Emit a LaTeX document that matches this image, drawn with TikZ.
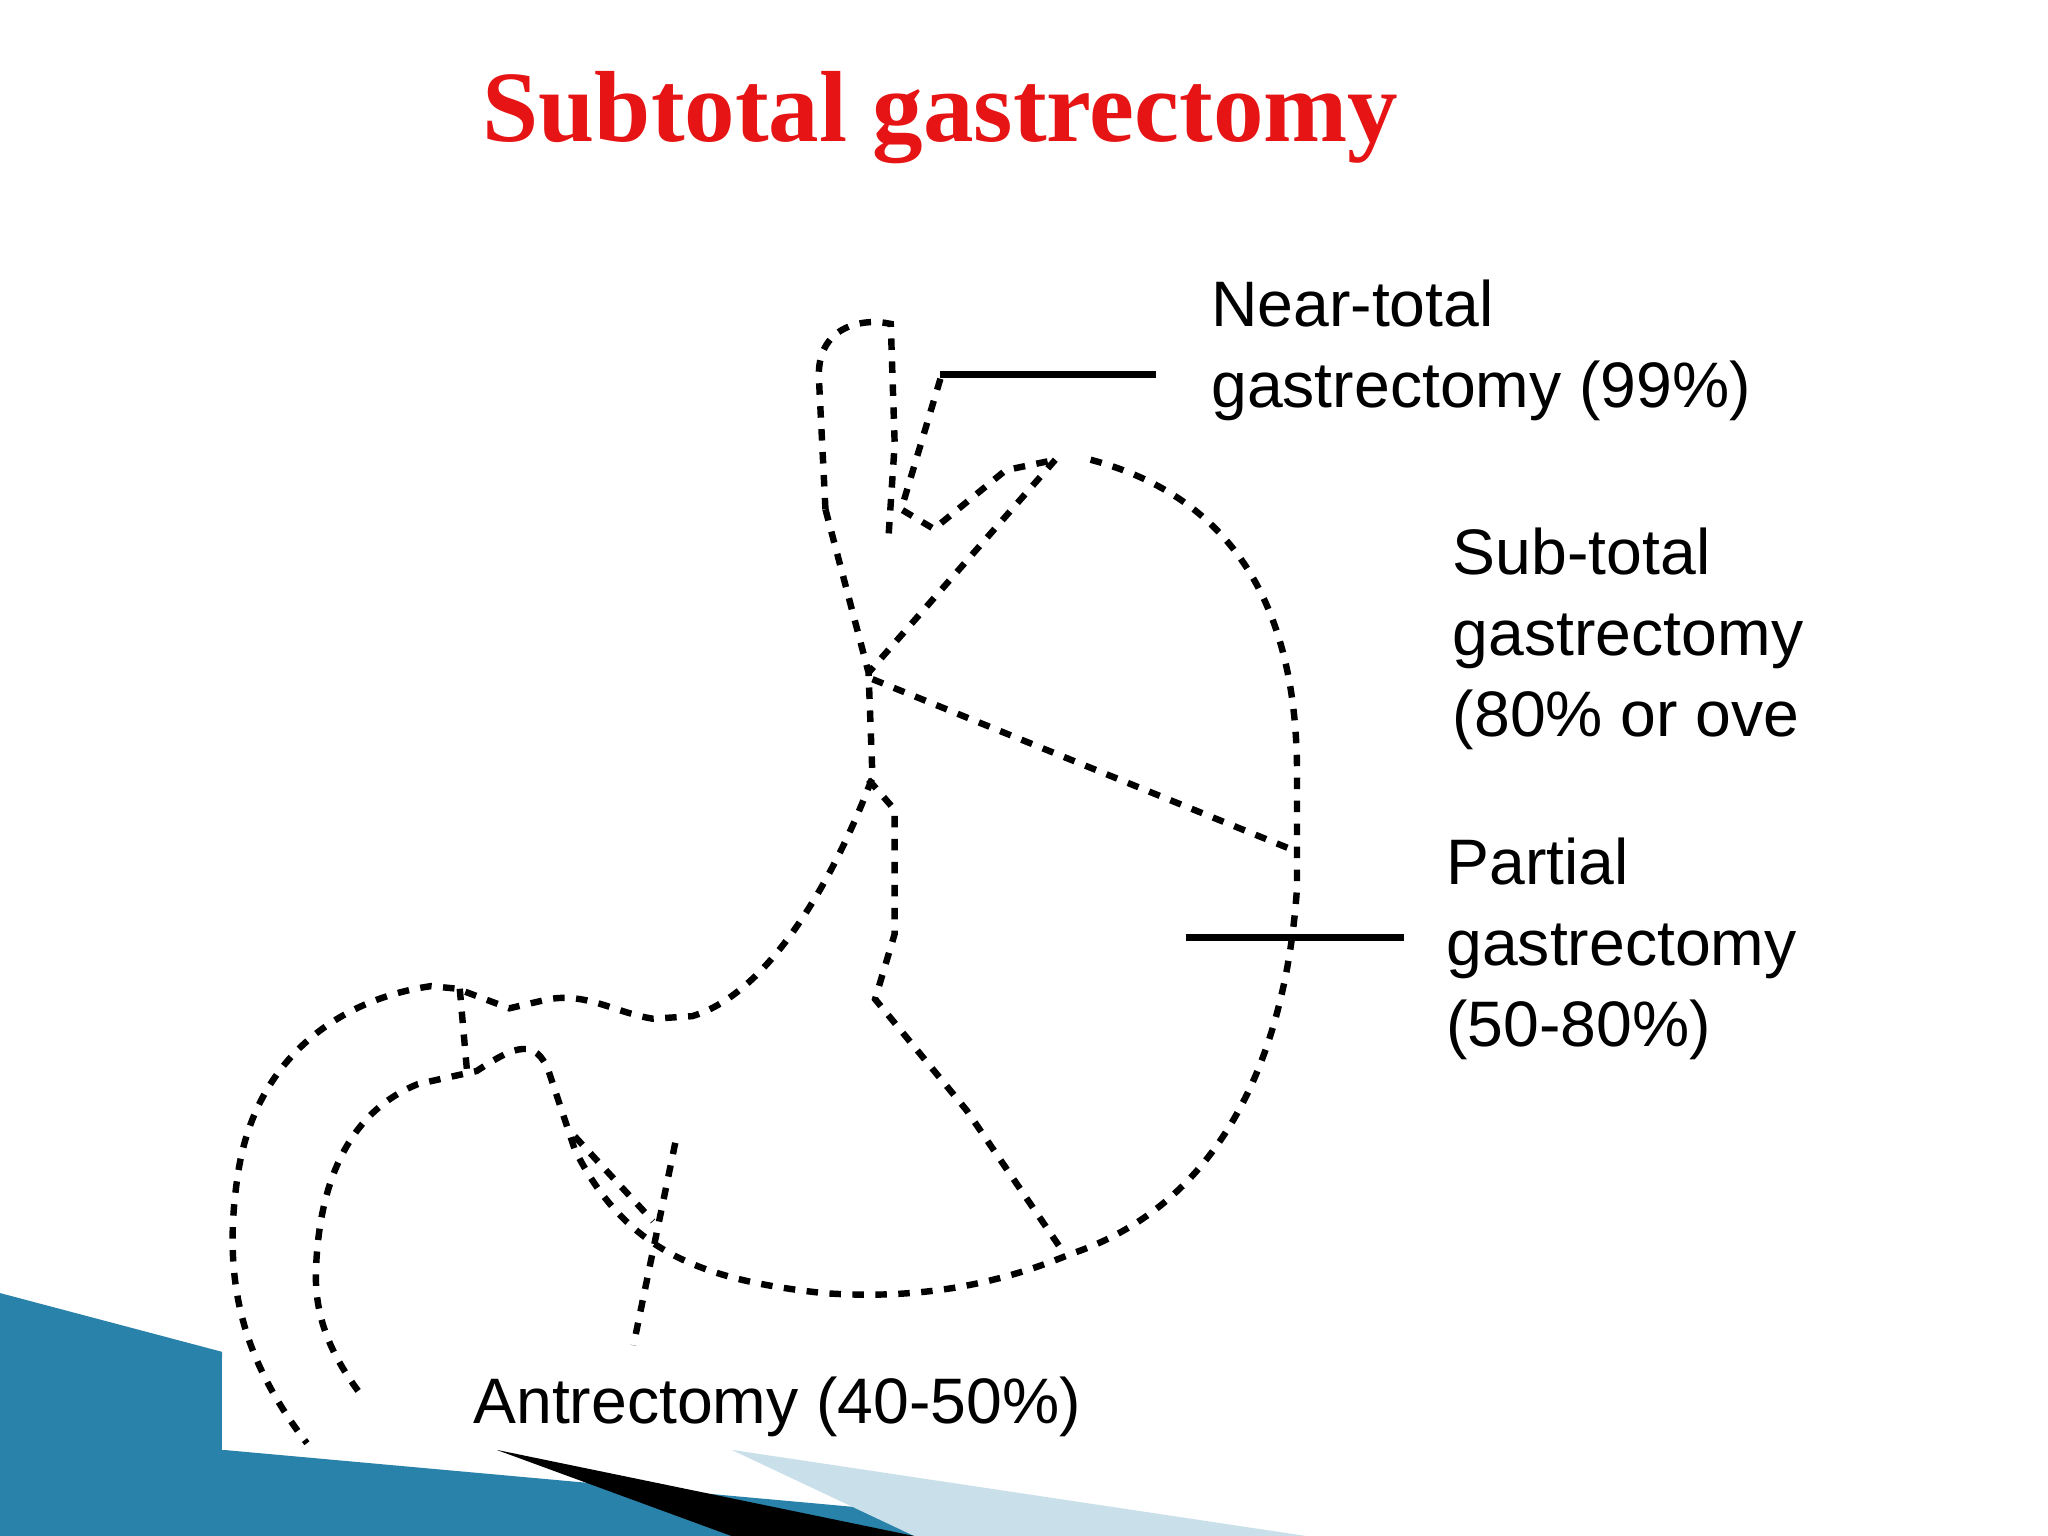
\documentclass[tikz,border=0pt]{standalone}
\usepackage{fontspec}
\setmainfont{Liberation Serif}
\newfontfamily\lab{Liberation Sans}
\definecolor{tred}{RGB}{230,20,20}
\definecolor{sw}{RGB}{40,130,170}
\begin{document}
\begin{tikzpicture}[x=0.01cm,y=-0.01cm,
  dl/.style={line width=1.4pt,dash pattern=on 2.5pt off 2.5pt},
  sl/.style={line width=1.5pt},
  lbl/.style={anchor=north west,align=left,font=\lab\fontsize{14}{17.6}\selectfont}]
\useasboundingbox (0,0) rectangle (1568,1176);
\fill[white] (0,0) rectangle (1568,1176);
% swoosh
\fill[sw] (0,990) -- (170,1035) -- (170,1110) -- (900,1176) -- (0,1176) -- cycle;
\fill[sw!25!white] (560,1110) -- (1000,1176) -- (700,1176) -- cycle;
\fill[black] (380,1110) -- (700,1176) -- (560,1176) -- cycle;
\fill[white] (170,1040) rectangle (1075,1110);
\node[font=\bfseries\fontsize{22}{26}\selectfont,text=tred] (title) at (720,90) {Subtotal gastrectomy};
% esophagus
\draw[dl] (632,390) -- (627,290) .. controls (625,250) and (660,243) .. (682,248) -- (685,340) -- (680,415);
% lesser curvature
\draw[dl] (632,390) -- (665,515) -- (668,595) .. controls (640,670) and (590,760) .. (530,778)
  -- (500,780) .. controls (470,775) and (450,760) .. (420,765) -- (390,772) -- (350,757) -- (330,755)
  .. controls (260,765) and (195,810) .. (182,900) .. controls (170,980) and (185,1040) .. (235,1105);
% greater curvature
\draw[dl] (835,352) .. controls (940,380) and (995,460) .. (993,600) -- (993,680)
  .. controls (985,800) and (940,920) .. (820,960) .. controls (760,985) and (700,995) .. (630,990)
  .. controls (540,980) and (480,960) .. (440,880) -- (420,820) .. controls (410,795) and (395,800) .. (365,820)
  -- (320,830) .. controls (270,850) and (245,900) .. (242,970) .. controls (240,1010) and (255,1040) .. (278,1070);
% fundus notch
\draw[dl] (720,290) -- (690,390) -- (715,405) -- (770,360) -- (808,352);
% subtotal line
\draw[dl] (808,352) -- (665,515);
\draw[dl] (668,520) -- (988,650);
% partial line
\draw[dl] (665,597) -- (685,620) -- (685,715) -- (670,765) -- (740,850) -- (815,960);
% antrectomy
\draw[dl] (517,875) -- (485,1030);
\draw[dl] (440,870) -- (500,935);
\draw[dl] (352,757) -- (358,825);
% leaders
\coordinate (n1) at (885,287); \coordinate (n2) at (720,287);
\draw[sl] (n1) -- (n2);
\coordinate (p1) at (908,718); \coordinate (p2) at (1075,718);
\draw[sl] (p1) -- (p2);
% labels
\node[lbl] (nt) at (915,202) {Near-total\\gastrectomy (99\%)};
\node[lbl] (st) at (1100,392) {Sub-total\\gastrectomy\\(80\% or ove};
\node[lbl] (pg) at (1095,629) {Partial\\gastrectomy\\(50-80\%)};
\node[lbl] (an) at (350,1042) {Antrectomy (40-50\%)};
\end{tikzpicture}
\end{document}
